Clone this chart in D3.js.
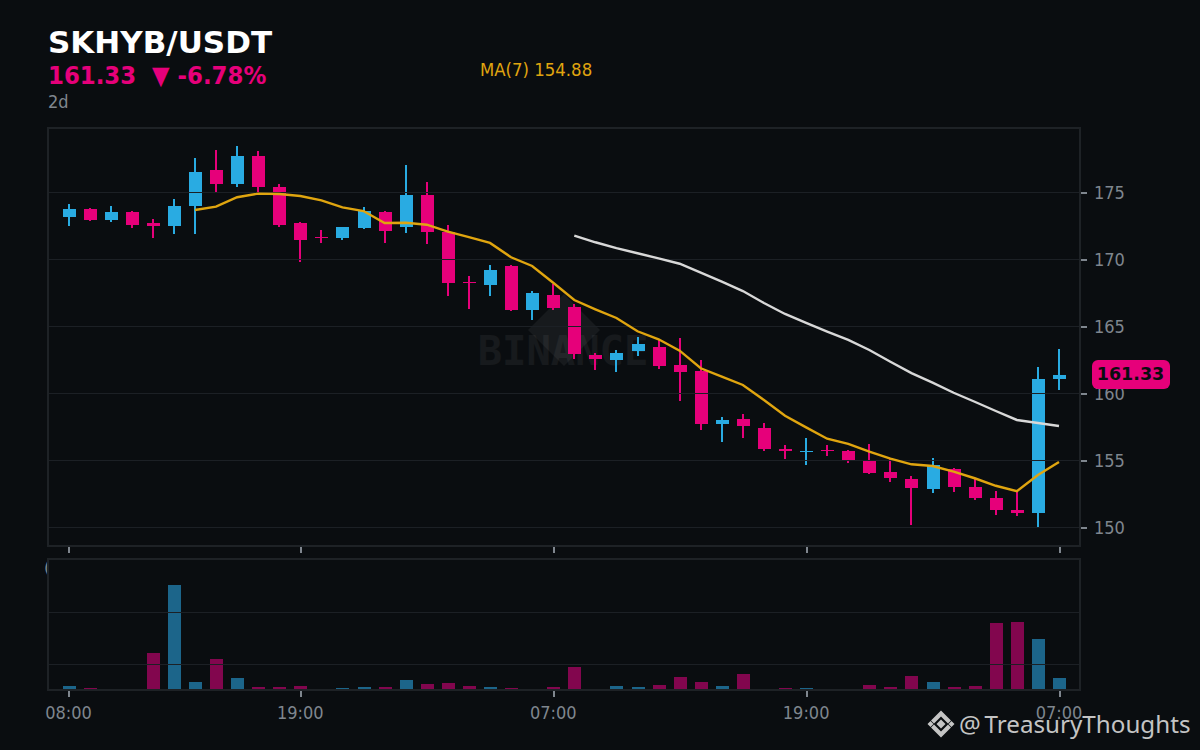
<!DOCTYPE html>
<html>
<head>
<meta charset="utf-8">
<script src="https://cdn.jsdelivr.net/npm/d3@7"></script>
<style>
  html, body { margin: 0; padding: 0; background: #0a0d10; }
  text { font-family: "DejaVu Sans", sans-serif; }
  .cond { font-stretch: condensed; }
</style>
</head>
<body>
<div id="chart"></div>
<script>
// hourly candles
const opens = [173.16,173.75,172.93,173.53,172.71,172.49,173.98,176.66,175.62,177.71,175.40,172.71,171.66,171.59,172.34,173.53,172.41,174.80,172.04,168.31,168.08,169.50,166.22,167.33,166.44,162.86,162.49,163.16,163.45,162.11,161.66,157.71,158.08,157.41,155.84,155.62,155.77,155.69,154.95,154.13,153.60,152.86,154.35,153.01,152.19,151.29,151.07,161.07];
const highs = [174.13,173.83,173.98,173.60,173.01,174.50,177.56,178.16,178.46,178.08,175.62,172.78,172.19,172.41,173.90,173.60,177.04,175.77,172.56,168.76,169.58,169.58,167.63,168.16,166.66,163.01,163.23,164.20,163.98,164.13,162.49,158.23,158.46,157.78,156.14,156.66,156.14,155.77,156.22,155.10,153.83,155.17,154.43,153.60,152.71,152.71,161.99,163.31];
const lows = [172.49,172.86,172.78,172.34,171.59,171.89,171.89,174.95,175.40,175.02,172.41,169.80,171.22,171.44,172.26,171.22,171.96,171.14,167.26,166.29,167.26,166.14,165.47,166.22,162.56,161.74,161.59,162.78,161.81,159.43,157.26,156.37,156.66,155.69,155.10,154.65,155.32,154.80,153.98,153.38,150.17,152.56,152.63,152.04,150.92,150.84,149.95,160.25];
const closes = [173.75,172.93,173.53,172.56,172.49,173.98,176.51,175.62,177.71,175.40,172.56,171.44,171.59,172.41,173.60,172.11,174.80,172.04,168.23,168.23,169.20,166.22,167.48,166.37,162.93,162.56,163.01,163.68,162.04,161.59,157.71,158.01,157.56,155.84,155.69,155.69,155.69,155.02,154.05,153.68,152.93,154.65,153.01,152.19,151.29,151.07,161.07,161.33];
const volumes = [77,38,19,19,711,2019,154,596,231,58,58,77,19,38,58,58,192,115,135,77,58,38,19,58,442,19,77,58,96,250,154,77,308,19,38,38,19,19,96,58,269,154,58,77,1288,1308,981,231];

// moving averages, first value belongs to the candle at the given index
const ma7Start = 6;
const ma7 = [173.68,173.93,174.63,174.90,174.87,174.72,174.40,173.88,173.60,172.71,172.73,172.58,172.06,171.66,171.22,170.15,169.50,168.25,166.96,166.27,165.62,164.63,164.03,163.18,161.87,161.24,160.62,159.50,158.33,157.46,156.61,156.22,155.64,155.12,154.70,154.57,154.15,153.66,153.10,152.69,153.90,154.88];
const ma25Start = 24;
const ma25 = [171.76,171.27,170.84,170.45,170.07,169.67,169.00,168.33,167.63,166.74,165.92,165.25,164.61,163.98,163.23,162.36,161.51,160.79,160.04,159.37,158.68,158.01,157.78,157.56];

const priceTicks = [150, 155, 160, 165, 170, 175];
const volumeTicks = [500, 1500];
const timeTickIndex = [0, 11, 23, 35, 47];
const timeTickLabels = ["08:00", "19:00", "07:00", "19:00", "07:00"];

const lastPrice = "161.33";
const changeText = "161.33  \u25BC -6.78%";
const maLabel = "MA(7) 154.88";

const BG = "#0a0d10", UP = "#29abe2", DOWN = "#e6007a";
const UP_DIM = "#1c658a", DOWN_DIM = "#82064e";
const GRID = "#1c2025", BORDER = "#1e2226", TICK = "#7f868e";

const svg = d3.select("#chart").append("svg")
  .attr("width", 1200).attr("height", 750)
  .style("display", "block").style("background", BG);

const xScale = d3.scaleLinear().domain([0, 47]).range([68.5, 1059]);
const yScale = d3.scaleLinear().domain([150, 175]).range([527.3, 192.3]);
const vScale = d3.scaleLinear().domain([0, 500]).range([690, 664]);

const panel = { left: 48, right: 1080, top: 128, bottom: 546, vTop: 559, vBottom: 690 };
const candles = opens.map((o, i) => ({ i, o, h: highs[i], l: lows[i], c: closes[i], v: volumes[i], up: closes[i] >= o }));

// the stray glyph that pokes out behind the volume panel
svg.append("text").attr("x", 44).attr("y", 573).attr("font-size", 16).attr("fill", TICK).text("(");

// panels
[[panel.top, panel.bottom], [panel.vTop, panel.vBottom]].forEach(([t, b]) => {
  svg.append("rect")
    .attr("x", panel.left).attr("y", t)
    .attr("width", panel.right - panel.left).attr("height", b - t)
    .attr("fill", BG);
});

// watermark
const wm = svg.append("g");
wm.append("path")
  .attr("d", "M564,294 L600,330 L564,366 L528,330 Z")
  .attr("fill", "#ffffff").attr("opacity", 0.055);
wm.append("text")
  .attr("x", 563).attr("y", 365).attr("text-anchor", "middle")
  .attr("font-size", 40.5).attr("font-weight", "bold")
  .style("font-family", "'DejaVu Sans Mono', monospace")
  .attr("fill", "#ffffff").attr("opacity", 0.05)
  .text("BINANCE");

// candles
const candleG = svg.append("g").attr("shape-rendering", "crispEdges");
candleG.selectAll(".wick").data(candles).join("rect")
  .attr("class", "wick")
  .attr("x", d => Math.round(xScale(d.i)) - 1)
  .attr("y", d => yScale(d.h))
  .attr("width", 2)
  .attr("height", d => yScale(d.l) - yScale(d.h))
  .attr("fill", d => d.up ? UP : DOWN);
candleG.selectAll(".body").data(candles).join("rect")
  .attr("class", "body")
  .attr("x", d => Math.round(xScale(d.i)) - 6.5)
  .attr("y", d => yScale(Math.max(d.o, d.c)))
  .attr("width", 13)
  .attr("height", d => Math.max(1, Math.abs(yScale(d.o) - yScale(d.c))))
  .attr("fill", d => d.up ? UP : DOWN);

// volume bars
const volG = svg.append("g").attr("shape-rendering", "crispEdges");
volG.selectAll("rect").data(candles).join("rect")
  .attr("x", d => Math.round(xScale(d.i)) - 6.5)
  .attr("y", d => vScale(d.v))
  .attr("width", 13)
  .attr("height", d => vScale(0) - vScale(d.v))
  .attr("fill", d => d.up ? UP_DIM : DOWN_DIM);

// grid sits on top of the bars
const gridG = svg.append("g").attr("shape-rendering", "crispEdges").attr("stroke", GRID);
gridG.selectAll(".gp").data(priceTicks).join("line").attr("class", "gp")
  .attr("x1", panel.left).attr("x2", panel.right)
  .attr("y1", d => yScale(d)).attr("y2", d => yScale(d));
gridG.selectAll(".gv").data(volumeTicks).join("line").attr("class", "gv")
  .attr("x1", panel.left).attr("x2", panel.right)
  .attr("y1", d => vScale(d)).attr("y2", d => vScale(d));

// moving averages
const line = d3.line().x(d => xScale(d[0])).y(d => yScale(d[1]));
svg.append("path")
  .attr("d", line(ma25.map((v, i) => [i + ma25Start, v])))
  .attr("fill", "none").attr("stroke", "#d8d8d8").attr("stroke-width", 2.4);
svg.append("path")
  .attr("d", line(ma7.map((v, i) => [i + ma7Start, v])))
  .attr("fill", "none").attr("stroke", "#e0a50f").attr("stroke-width", 2.4);

// panel borders
[[panel.top, panel.bottom], [panel.vTop, panel.vBottom]].forEach(([t, b]) => {
  svg.append("rect")
    .attr("x", panel.left).attr("y", t)
    .attr("width", panel.right - panel.left).attr("height", b - t)
    .attr("fill", "none").attr("stroke", BORDER).attr("stroke-width", 2)
    .attr("shape-rendering", "crispEdges");
});

// axes
const yAxis = d3.axisRight(yScale).tickValues(priceTicks).tickSize(6).tickPadding(7);
const yG = svg.append("g").attr("transform", `translate(${panel.right + 1},0)`).call(yAxis);
yG.select(".domain").remove();
yG.selectAll("line").attr("stroke", TICK).attr("stroke-width", 2).attr("shape-rendering", "crispEdges");
yG.selectAll("text").attr("class", "cond").attr("fill", TICK).attr("font-size", 18).style("font-family", "'DejaVu Sans', sans-serif");

const timeFormat = (d, i) => timeTickLabels[i];
const xAxisTop = d3.axisBottom(xScale).tickValues(timeTickIndex).tickSize(6).tickFormat("");
const xTopG = svg.append("g").attr("transform", `translate(0,${panel.bottom + 1})`).call(xAxisTop);
xTopG.select(".domain").remove();
xTopG.selectAll("line").attr("stroke", TICK).attr("stroke-width", 2).attr("shape-rendering", "crispEdges");

const xAxis = d3.axisBottom(xScale).tickValues(timeTickIndex).tickSize(6).tickPadding(9).tickFormat(timeFormat);
const xG = svg.append("g").attr("transform", `translate(0,${panel.vBottom + 1})`).call(xAxis);
xG.select(".domain").remove();
xG.selectAll("line").attr("stroke", TICK).attr("stroke-width", 2).attr("shape-rendering", "crispEdges");
xG.selectAll("text").attr("class", "cond").attr("fill", TICK).attr("font-size", 18).attr("dx", -0.5).style("font-family", "'DejaVu Sans', sans-serif");

// header
svg.append("text").attr("x", 48).attr("y", 53).attr("font-size", 31).attr("font-weight", "bold").attr("fill", "#ffffff").text("SKHYB/USDT");
svg.append("text").attr("class", "cond").attr("x", 48).attr("y", 84).attr("font-size", 25.4).attr("font-weight", "bold").attr("fill", DOWN).attr("xml:space", "preserve").text(changeText);
svg.append("text").attr("class", "cond").attr("x", 48).attr("y", 108).attr("font-size", 18).attr("fill", TICK).text("2d");
svg.append("text").attr("class", "cond").attr("x", 480).attr("y", 76).attr("font-size", 18.4).attr("fill", "#e0a50f").text(maLabel);

// last price tag
svg.append("rect").attr("x", 1092).attr("y", 360).attr("width", 78).attr("height", 29).attr("rx", 6).attr("fill", DOWN);
svg.append("text").attr("x", 1130.5).attr("y", yScale(+lastPrice) - 1.5).attr("dy", "0.35em")
  .attr("text-anchor", "middle").attr("font-size", 17.5).attr("font-weight", "bold").attr("fill", BG).text(lastPrice);

// credit
const logo = svg.append("g").attr("transform", "translate(941,724)").attr("fill", "#c4c4c4");
logo.append("path").attr("d", "M0,-4.5 L4.5,0 L0,4.5 L-4.5,0 Z");
logo.append("path").attr("d", "M-10,-3.5 L0,-13.5 L10,-3.5 L7,-0.5 L0,-7.5 L-7,-0.5 Z M-10,3.5 L0,13.5 L10,3.5 L7,0.5 L0,7.5 L-7,0.5 Z");
logo.append("path").attr("d", "M-13.5,0 L-10.5,-3 L-7.5,0 L-10.5,3 Z M13.5,0 L10.5,-3 L7.5,0 L10.5,3 Z");
svg.append("text").attr("x", 959).attr("y", 733).attr("font-size", 24.2).attr("word-spacing", -2.5).attr("fill", "#c4c4c4")
  .style("font-family", "'Noto Sans', sans-serif").text("@ TreasuryThoughts");
</script>
</body>
</html>
